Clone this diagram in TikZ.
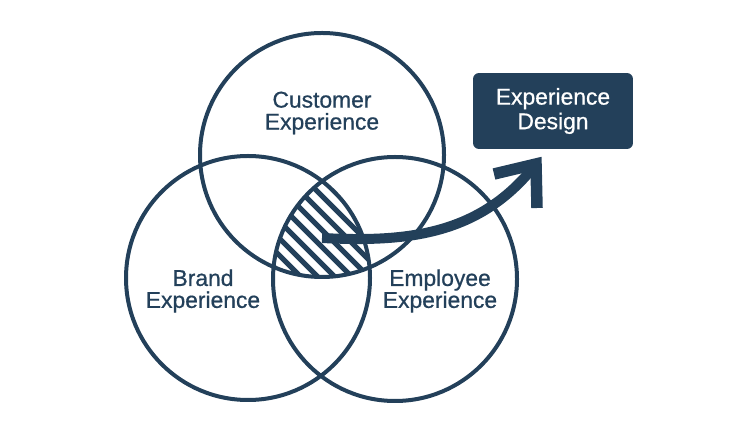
\documentclass[tikz,border=0pt]{standalone}
\usepackage{fontspec}
\setmainfont{Liberation Sans}
\newfontfamily\medfont{Liberation Sans}[FakeBold=0.7]
\usetikzlibrary{calc}
\definecolor{navy}{RGB}{35,64,90}

\begin{document}
\begin{tikzpicture}[x=0.02cm, y=0.02cm,
		ring/.style = {draw=navy, line width=0.08cm},
		hatchline/.style = {draw=navy, line width=0.1cm},
		venntext/.style = {text=navy, align=center, font=\medfont\fontsize{13}{12.5}\selectfont},
		box/.style = {fill=navy, rounded corners=0.12cm, text=white, align=center,
			minimum width=3.2cm, minimum height=1.52cm, font=\medfont\fontsize{13}{14}\selectfont},
		shaft/.style = {draw=navy, line width=0.2cm}]
		\useasboundingbox (0,0) rectangle (750,429);
		\coordinate (ctop) at (322,274);
		\coordinate (cleft) at (248,151);
		\coordinate (cright) at (395,150);
		\coordinate (mid) at (322,199);
		% hatched overlap
		\begin{scope}
		\clip (ctop) circle[radius=122];
		\clip (cleft) circle[radius=122];
		\clip (cright) circle[radius=122];
		\foreach \k in {-9,...,9}
			\draw [hatchline] ($(mid)+(\k*17-120,120)$) -- ($(mid)+(\k*17+120,-120)$);
		\end{scope}
		\draw [ring] (ctop) circle[radius=122];
		\draw [ring] (cleft) circle[radius=122];
		\draw [ring] (cright) circle[radius=122];
		\node [venntext] (customer) at (322,316) {Customer\\Experience};
		\node [venntext] (brand) at (203,138) {Brand\\Experience};
		\node [venntext] (employee) at (440,138) {Employee\\Experience};
		\node [box] (design) at (553,318) {Experience\\Design};
		% arrow out of the overlap
		\coordinate (start) at (322,191);
		\coordinate (tip) at (536,265);
		\coordinate (wingl) at (494,255);
		\coordinate (wingr) at (537,221);
		\draw [shaft] (start) to[out=-3, in=232] (tip);
		\draw [shaft, line width=0.23cm, line join=miter] (wingl) -- (tip) -- (wingr);
		
		\end{tikzpicture}
\end{document}
